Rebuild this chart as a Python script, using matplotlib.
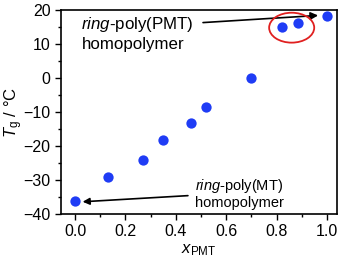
import matplotlib
matplotlib.use("Agg")
import matplotlib.pyplot as plt
from matplotlib.patches import Ellipse
from matplotlib.ticker import MultipleLocator

plt.rcParams['font.family'] = ['Liberation Sans', 'DejaVu Sans']
plt.rcParams['mathtext.fontset'] = 'custom'
plt.rcParams['mathtext.it'] = 'Liberation Sans:italic'
plt.rcParams['mathtext.rm'] = 'Liberation Sans'

# composition (mole fraction of PMT) and glass transition temperature
x_pmt = [0.0, 0.13, 0.27, 0.35, 0.46, 0.52, 0.70, 0.82, 0.885, 1.0]
tg = [-36.2, -29.0, -24.2, -18.2, -13.1, -8.4, 0.0, 15.1, 16.1, 18.2]

fig = plt.figure(figsize=(3.45, 2.62), dpi=100)
ax = fig.add_axes([61 / 345, 1 - 214 / 262, 276 / 345, 204 / 262])

ax.scatter(x_pmt, tg, s=55, color='#1f3cf5', zorder=3, linewidths=0)

ax.set_xlim(-0.056, 1.04)
ax.set_ylim(-40, 20)
ax.xaxis.set_major_locator(MultipleLocator(0.2))
ax.xaxis.set_minor_locator(MultipleLocator(0.1))
ax.yaxis.set_major_locator(MultipleLocator(10))
ax.yaxis.set_minor_locator(MultipleLocator(5))
ax.xaxis.set_major_formatter(matplotlib.ticker.FormatStrFormatter('%.1f'))
ax.tick_params(which='major', length=4, width=1, labelsize=11.5, direction='out')
ax.tick_params(which='minor', length=2.5, width=1, direction='out')
for s in ax.spines.values():
    s.set_linewidth(1.2)

ax.set_xlabel(r'$x$$_{\mathrm{PMT}}$', fontsize=12, labelpad=2)
ax.set_ylabel(r'$T$$_{\mathrm{g}}$ / °C', fontsize=12, labelpad=-1)

# upper annotation
ax.text(0.025, 18.4, r'$ring$-poly(PMT)' + '\nhomopolymer', fontsize=12.2,
        va='top', ha='left', linespacing=1.25)
ax.annotate('', xy=(0.965, 18.4), xytext=(0.508, 16.3),
            arrowprops=dict(arrowstyle='-|>', color='black', lw=1.2,
                            mutation_scale=11, shrinkA=0, shrinkB=0))
ax.add_patch(Ellipse((0.86, 14.8), 0.179, 8.8, fill=False,
                     edgecolor='#e02020', lw=1.3, zorder=4))

# lower annotation
ax.text(0.475, -29.0, r'$ring$-poly(MT)' + '\nhomopolymer', fontsize=10.5,
        va='top', ha='left', linespacing=1.15)
ax.annotate('', xy=(0.03, -36.4), xytext=(0.448, -34.6),
            arrowprops=dict(arrowstyle='-|>', color='black', lw=1.2,
                            mutation_scale=10, shrinkA=0, shrinkB=0))

fig.savefig('out.png', dpi=100)
